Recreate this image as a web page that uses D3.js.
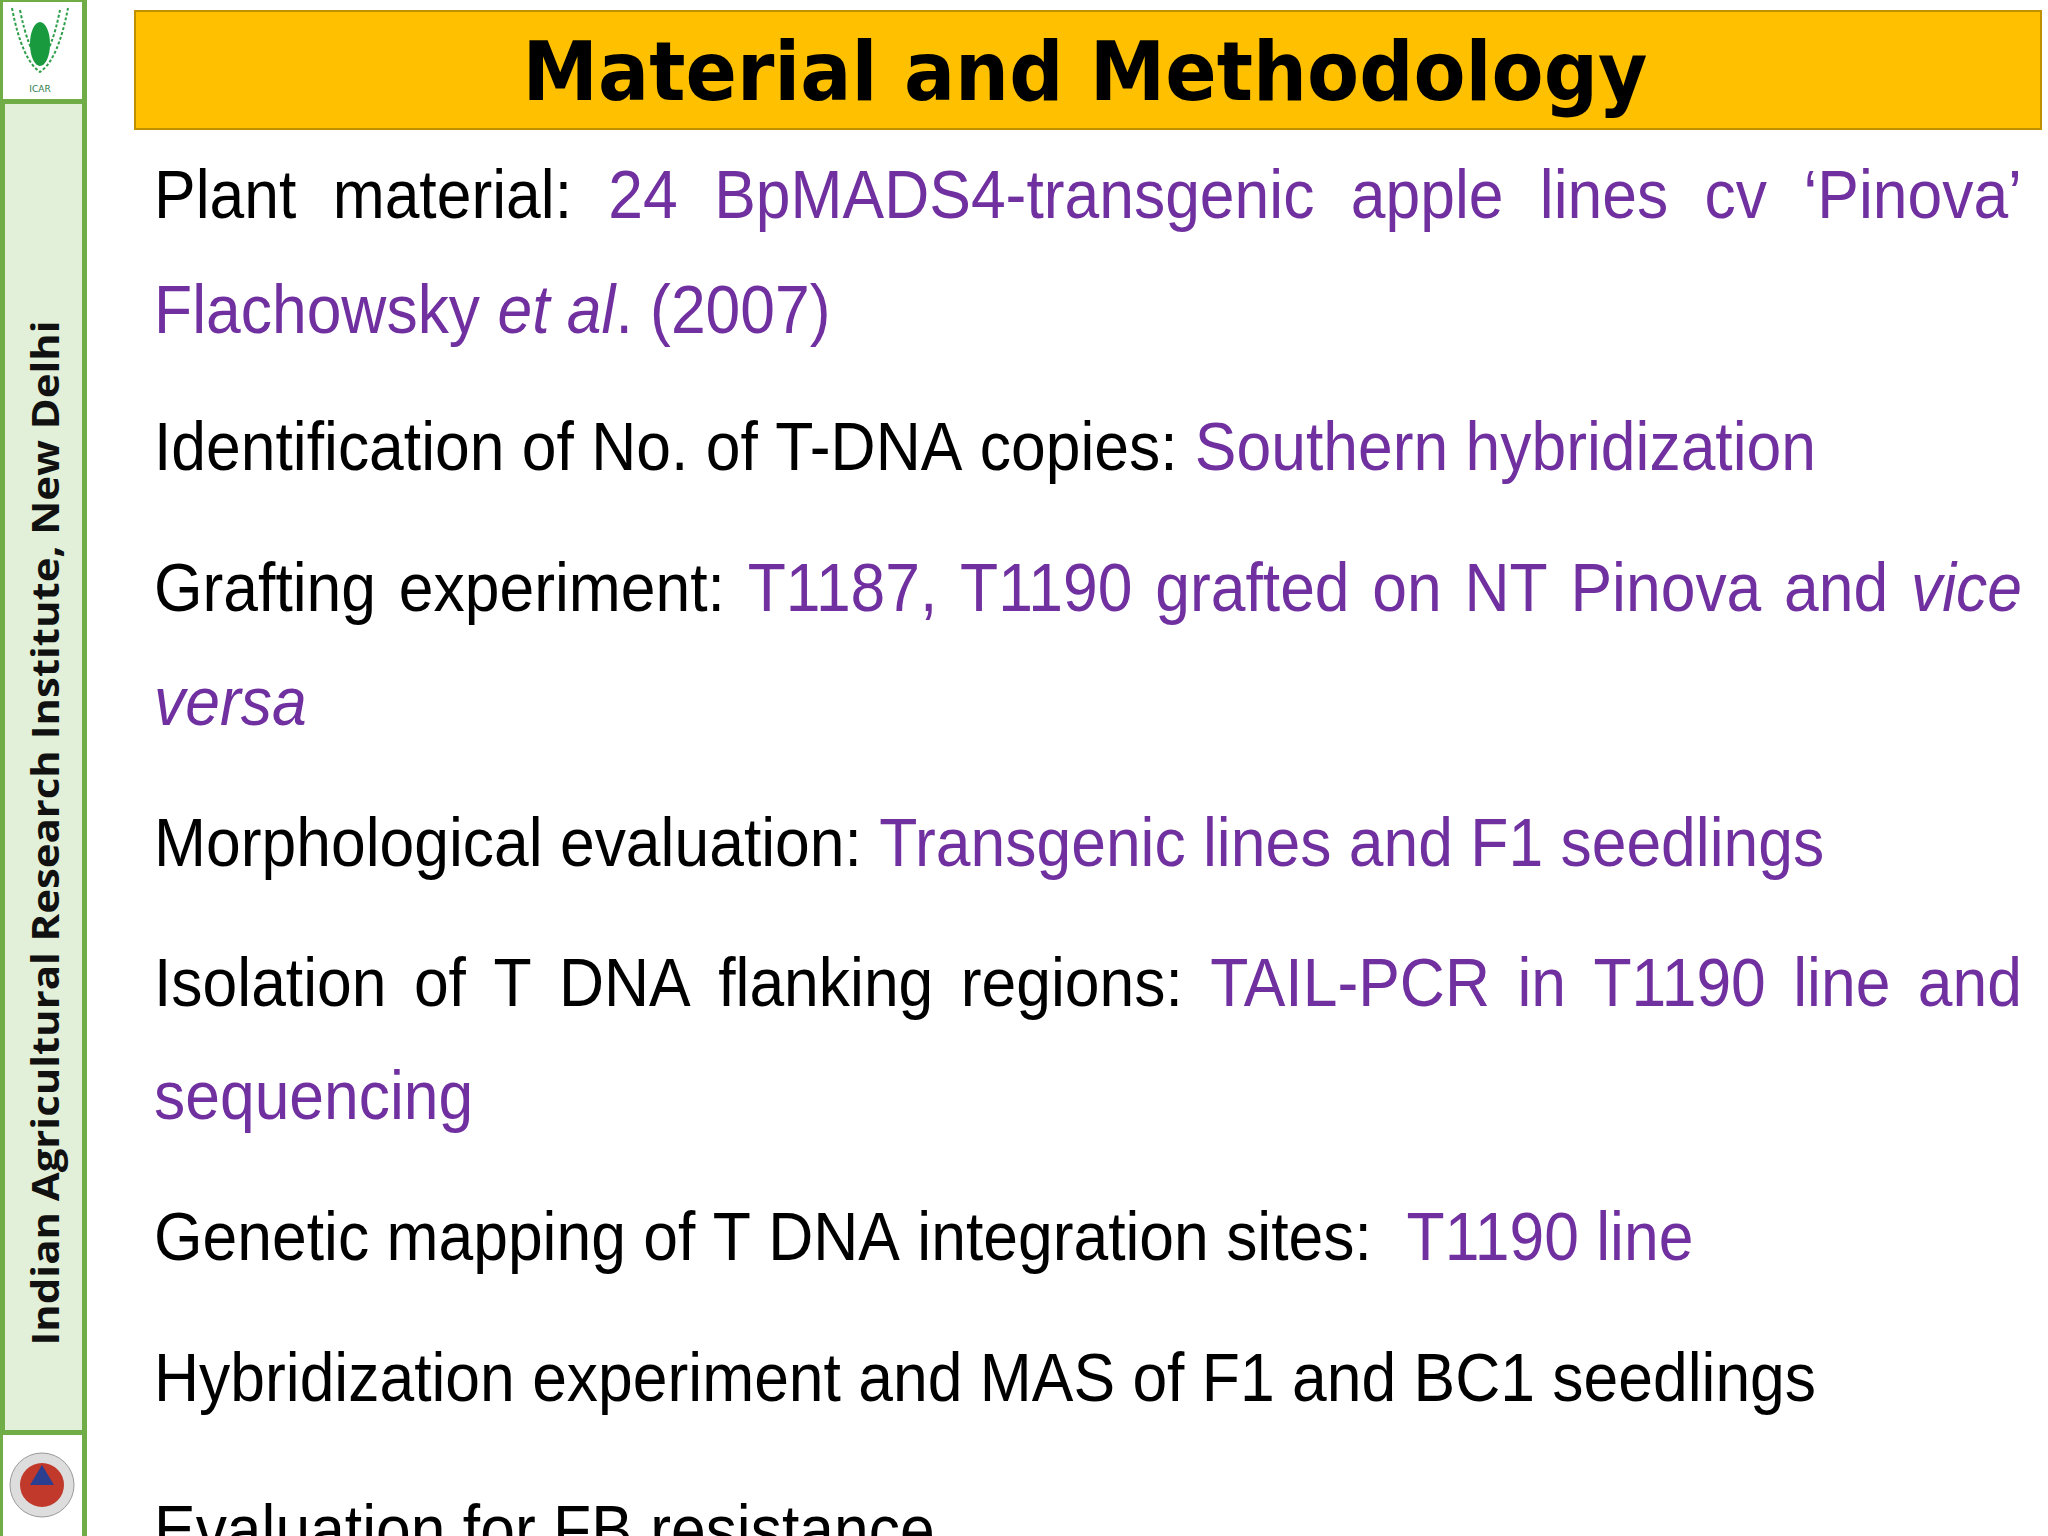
<!DOCTYPE html>
<html><head><meta charset="utf-8">
<script src="https://cdn.jsdelivr.net/npm/d3@7"></script>
<style>body{margin:0;background:#fff}</style>
</head><body>
<script>
var titleText = 'Material and Methodology';
var sideText = 'Indian Agricultural Research Institute, New Delhi';
// each line: segments [text, purple?, italic?], justified flag
var lines = [
	{j: true, s: [['Plant material: ', 0], ['24 BpMADS4-transgenic apple lines cv \u2018Pinova\u2019', 1]]},
	{j: false, s: [['Flachowsky ', 1], ['et al', 1, 1], ['. (2007)', 1]]},
	{j: false, s: [['Identification of No. of T-DNA copies: ', 0], ['Southern hybridization', 1]]},
	{j: true, s: [['Grafting experiment: ', 0], ['T1187, T1190 grafted on NT Pinova and ', 1], ['vice', 1, 1]]},
	{j: false, s: [['versa', 1, 1]]},
	{j: false, s: [['Morphological evaluation: ', 0], ['Transgenic lines and F1 seedlings', 1]]},
	{j: true, s: [['Isolation of T DNA flanking regions: ', 0], ['TAIL-PCR in T1190 line and', 1]]},
	{j: false, s: [['sequencing', 1]]},
	{j: false, s: [['Genetic mapping of T DNA integration sites:  ', 0], ['T1190 line', 1]]},
	{j: false, s: [['Hybridization experiment and MAS of F1 and BC1 seedlings', 0]]},
	{j: false, s: [['Evaluation for FB resistance', 0]]}
];
var baselines = [218, 333, 470, 611, 725, 866, 1006, 1119, 1260, 1401, 1553];

var W = 2048, H = 1536;
var svg = d3.select('body').append('svg').attr('width', W).attr('height', H);

// sidebar
svg.append('rect').attr('x', 0).attr('y', 0).attr('width', 87).attr('height', H).attr('fill', '#70ad47');
svg.append('rect').attr('x', 3).attr('y', 2).attr('width', 79).attr('height', 97).attr('fill', '#fff');
svg.append('rect').attr('x', 5).attr('y', 104).attr('width', 77).attr('height', 1326).attr('fill', '#e2f0d9');
svg.append('rect').attr('x', 3).attr('y', 1435).attr('width', 79).attr('height', 101).attr('fill', '#fff');
// top logo sketch
var lg = svg.append('g').attr('fill', 'none').attr('stroke', '#2e9e4a').attr('stroke-width', 2).attr('stroke-dasharray', '3,2');
lg.append('path').attr('d', 'M12,8 Q22,60 40,72 Q58,60 68,8');
lg.append('path').attr('d', 'M20,10 Q28,50 40,62 Q52,50 60,10');
svg.append('ellipse').attr('cx', 40).attr('cy', 44).attr('rx', 10).attr('ry', 22).attr('fill', '#1a9a3f');
svg.append('text').attr('x', 40).attr('y', 92).attr('text-anchor', 'middle').attr('font-size', 9)
	.attr('fill', '#2e7d4a').attr('font-family', 'DejaVu Sans').text('ICAR');
// bottom logo sketch
svg.append('circle').attr('cx', 42).attr('cy', 1485).attr('r', 32).attr('fill', '#ddd').attr('stroke', '#999');
svg.append('circle').attr('cx', 42).attr('cy', 1485).attr('r', 22).attr('fill', '#c0392b');
svg.append('path').attr('d', 'M30,1485 L42,1465 L54,1485 Z').attr('fill', '#2c3e8f');

svg.append('text')
	.attr('transform', 'translate(59,' + 833 + ') rotate(-90)')
	.attr('text-anchor', 'middle').attr('font-family', 'Open Sans').attr('font-weight', 'bold')
	.attr('font-size', 38).attr('fill', '#111')
	.attr('textLength', 1025).attr('lengthAdjust', 'spacingAndGlyphs')
	.text(sideText);

// title
svg.append('rect').attr('x', 135).attr('y', 11).attr('width', 1906).attr('height', 118)
	.attr('fill', '#ffc000').attr('stroke', '#bf9000').attr('stroke-width', 2);
svg.append('text').attr('x', 1085).attr('y', 100).attr('text-anchor', 'middle')
	.attr('font-family', 'DejaVu Sans').attr('font-weight', 'bold').attr('font-size', 82)
	.attr('textLength', 1125).attr('lengthAdjust', 'spacingAndGlyphs')
	.attr('fill', '#000').text(titleText);

// body (condensed horizontally like the slide's narrow sans)
var x0 = 154, x1 = 2022, sx = 0.918;
lines.forEach(function(ln, i) {
	var words = [];
	ln.s.forEach(function(seg) {
		seg[0].split(/(\s+)/).forEach(function(w) {
			if (w.length) words.push({t: w, p: seg[1], it: seg[2], sp: /^\s+$/.test(w)});
		});
	});
	var g = svg.append('g').attr('transform', 'translate(' + x0 + ',0) scale(' + sx + ',1)');
	var els = words.map(function(w) {
		return g.append('text').attr('y', baselines[i])
			.attr('font-family', 'Liberation Sans').attr('font-size', 68)
			.attr('font-style', w.it ? 'italic' : 'normal')
			.attr('fill', w.p ? '#7030a0' : '#000')
			.attr('xml:space', 'preserve').text(w.t);
	});
	var widths = els.map(function(e) { return e.node().getComputedTextLength(); });
	var total = d3.sum(widths);
	var nsp = words.filter(function(w) { return w.sp; }).length;
	var extra = (ln.j && nsp) ? ((x1 - x0) / sx - total) / nsp : 0;
	var x = 0;
	els.forEach(function(e, k) {
		e.attr('x', x);
		x += widths[k] + (words[k].sp ? extra : 0);
	});
});
</script>
</body></html>
